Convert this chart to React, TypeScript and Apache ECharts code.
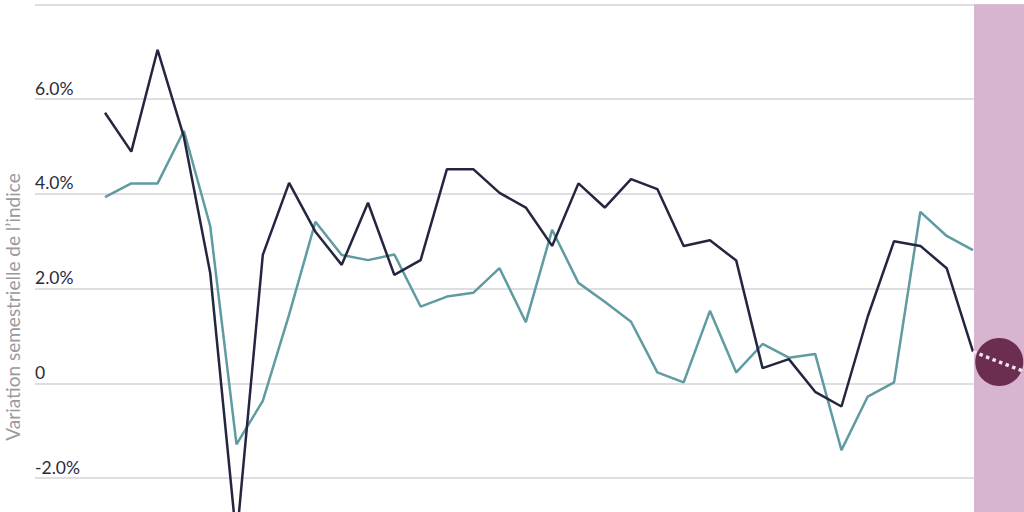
import React, { useEffect, useRef } from "react";
import * as echarts from "echarts";

const darkSeries = [
  5.71, 4.89, 7.04, 5.2, 2.33, -3.3, 2.71, 4.23, 3.2, 2.5, 3.81, 2.29, 2.6, 4.52,
  4.52, 4.02, 3.71, 2.9, 4.22, 3.71, 4.31, 4.1, 2.9, 3.02, 2.59, 0.32, 0.51,
  -0.18, -0.49, 1.41, 3.0, 2.9, 2.43, 0.67,
];
const tealSeries = [
  3.93, 4.22, 4.22, 5.33, 3.32, -1.29, -0.37, 1.45, 3.41, 2.71, 2.6, 2.72, 1.62,
  1.83, 1.91, 2.43, 1.29, 3.24, 2.12, 1.72, 1.3, 0.23, 0.02, 1.53, 0.23, 0.83,
  0.54, 0.62, -1.41, -0.28, 0.02, 3.62, 3.11, 2.81,
];
const forecastIndex = [33, 34, 35];
const forecastValues = [0.67, 0.45, 0.24];
const forecastPoint = [34, 0.45];
const bandRange = [33.04, 36];
const yTicks = { min: -4, max: 8, interval: 2 };
const axisTitle = "Variation semestrielle de l’indice";

export default function App() {
  const ref = useRef<HTMLDivElement>(null);
  useEffect(() => {
    if (!ref.current) return;
    const chart = echarts.init(ref.current, null, { renderer: "svg" });
    const dark = darkSeries.map((v, i) => [i, v]);
    const teal = tealSeries.map((v, i) => [i, v]);
    const fc = forecastIndex.map((x, i) => [x, forecastValues[i]]);
    chart.setOption({
      animation: false,
      grid: {
        left: 35,
        right: 0,
        top: 4.3,
        bottom: 7.2,
        containLabel: false,
        outerBoundsMode: "none",
      },
      xAxis: {
        type: "value",
        min: -2.661,
        max: 34.94,
        show: false,
        splitLine: { show: false },
      },
      yAxis: {
        type: "value",
        min: yTicks.min,
        max: yTicks.max,
        interval: yTicks.interval,
        axisLine: { show: false },
        axisTick: { show: false },
        splitLine: { lineStyle: { color: "#d4d4d8", width: 1.5 } },
        axisLabel: {
          margin: 0,
          align: "left",
          verticalAlign: "bottom",
          padding: [0, 0, 2, 0],
          color: "#2a2b3d",
          fontFamily: "Lato",
          fontSize: 17.5,
          formatter: (v: number) => (v === 0 ? "0" : v.toFixed(1) + "%"),
        },
      },
      graphic: [
        {
          type: "text",
          x: 12,
          y: 307,
          rotation: Math.PI / 2,
          style: {
            text: axisTitle,
            fill: "#9a9a9e",
            fontFamily: "Lato",
            fontSize: 19,
            align: "center",
            verticalAlign: "middle",
          },
        },
      ],
      series: [
        {
          type: "line",
          data: [],
          z: 1,
          silent: true,
          markArea: {
            silent: true,
            itemStyle: { color: "#d7b4cf", opacity: 1 },
            data: [[{ xAxis: bandRange[0] }, { xAxis: bandRange[1] }]],
          },
        },
        {
          type: "line",
          data: teal,
          z: 3,
          showSymbol: false,
          lineStyle: { color: "#5f9ba0", width: 2.5 },
          itemStyle: { color: "#5f9ba0" },
        },
        {
          type: "line",
          data: dark,
          z: 4,
          showSymbol: false,
          lineStyle: { color: "#242640", width: 2.5 },
          itemStyle: { color: "#242640" },
        },
        {
          type: "scatter",
          data: [forecastPoint],
          z: 5,
          symbol: "circle",
          symbolSize: 48,
          itemStyle: { color: "#6b2d50", opacity: 1 },
        },
        {
          type: "line",
          data: fc,
          z: 6,
          showSymbol: false,
          lineStyle: { color: "#f1e4ea", width: 3.5, type: [3.5, 3.5] },
        },
      ],
    });
    return () => chart.dispose();
  }, []);
  return (
    <div
      style={{
        position: "absolute",
        left: 0,
        top: 0,
        width: 1024,
        height: 512,
        overflow: "hidden",
      }}
    >
      <div ref={ref} style={{ width: 1024, height: 580 }} />
    </div>
  );
}
